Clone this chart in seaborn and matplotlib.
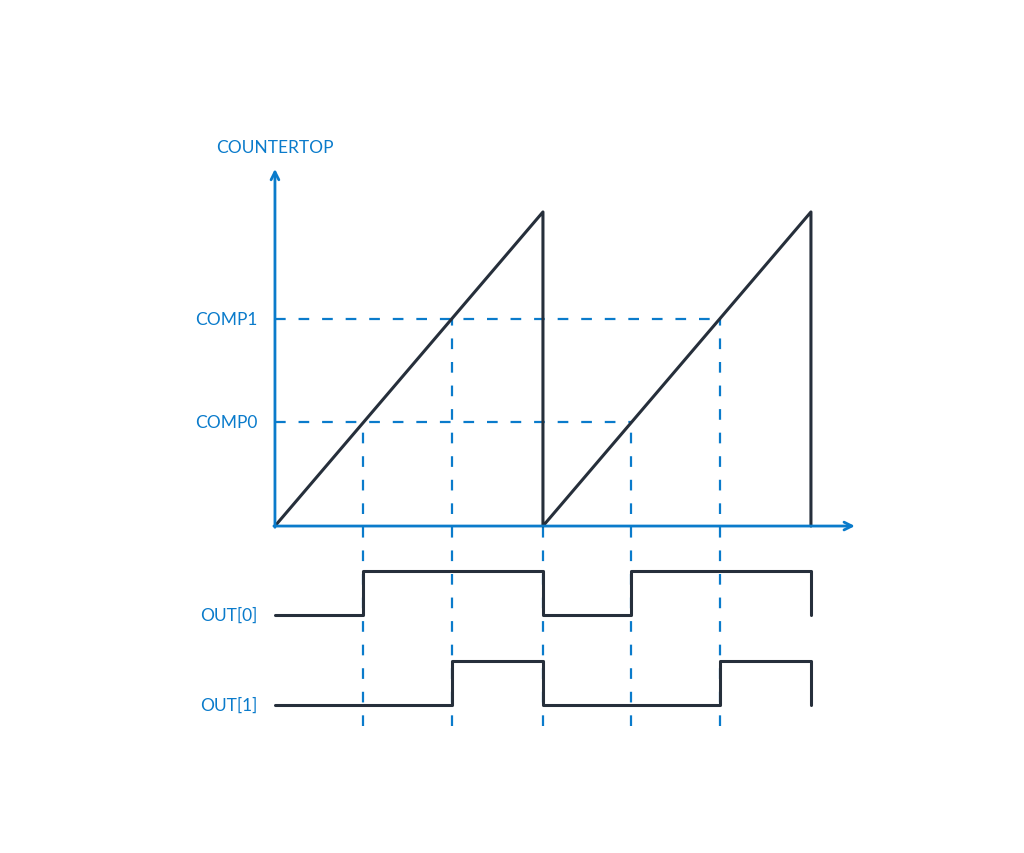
import numpy as np
import pandas as pd
import matplotlib
matplotlib.use("Agg")
import matplotlib.pyplot as plt
import seaborn as sns

# values in counter units (one period = 1, COUNTERTOP = 1)
counter_t = [0, 1, 1, 2, 2]
counter_v = [0, 1, 0, 1, 0]
comp_names = ["COMP0", "COMP1"]
comp_levels = [0.33, 0.66]

out0_t = [0, 0.33, 1, 1.33, 2]
out0_v = [0, 1, 0, 1, 0]
out1_t = [0, 0.66, 1, 1.66, 2]
out1_v = [0, 1, 0, 1, 0]
out_names = ["OUT[0]", "OUT[1]"]

BLUE = "#0a7bcb"
DARK = "#262f3b"

sns.set_style("white")
plt.rcParams["font.family"] = ["Lato", "DejaVu Sans"]

fig = plt.figure(figsize=(10.24, 8.54), dpi=100)
ax = fig.add_axes([0, 0, 1, 1])
ax.set_xlim(-1.026, 2.795)
ax.set_ylim(-1.041, 1.678)
ax.axis("off")

# lane placement for the output waveforms (below the counter plot)
lane_low = [-0.283, -0.570]
lane_amp = 0.14
dash_bottom = -0.637
dash = (0, (4.8, 5.8))

# dashed compare lines
ax.hlines(comp_levels[0], 0, out0_t[3], color=BLUE, lw=1.6, linestyle=dash, zorder=1)
ax.hlines(comp_levels[1], 0, out1_t[3], color=BLUE, lw=1.6, linestyle=dash, zorder=1)
for t, lvl in [(out0_t[1], comp_levels[0]), (out1_t[1], comp_levels[1]),
               (counter_t[1], 0), (out0_t[3], comp_levels[0]), (out1_t[3], comp_levels[1])]:
    ax.vlines(t, dash_bottom, lvl, color=BLUE, lw=1.6, linestyle=dash, zorder=1)

# counter sawtooth
df = pd.DataFrame({"t": counter_t, "v": counter_v})
sns.lineplot(data=df, x="t", y="v", ax=ax, color=DARK, lw=2.2,
             estimator=None, sort=False, zorder=3)

# output waveforms
for t, v, low in [(out0_t, out0_v, lane_low[0]), (out1_t, out1_v, lane_low[1])]:
    d = pd.DataFrame({"t": t, "v": [low + lane_amp * s for s in v]})
    sns.lineplot(data=d, x="t", y="v", ax=ax, color=DARK, lw=2.2,
                 estimator=None, sort=False, drawstyle="steps-post", zorder=3)

# axes with arrows
ax.annotate("", xy=(0, 1.137), xytext=(0, -0.004),
            arrowprops=dict(arrowstyle="->", color=BLUE, lw=2, mutation_scale=14,
                            shrinkA=0, shrinkB=0), zorder=4)
ax.annotate("", xy=(2.164, 0), xytext=(-0.004, 0),
            arrowprops=dict(arrowstyle="->", color=BLUE, lw=2, mutation_scale=14,
                            shrinkA=0, shrinkB=0), zorder=4)

# labels
fs = 12.5
ax.text(0, 1.208, "COUNTERTOP", color=BLUE, fontsize=fs, ha="center", va="center")
for name, lvl in zip(comp_names, comp_levels):
    ax.text(-0.065, lvl, name, color=BLUE, fontsize=fs, ha="right", va="center")
for name, low in zip(out_names, lane_low):
    ax.text(-0.065, low, name, color=BLUE, fontsize=fs, ha="right", va="center")

fig.savefig("out.png", dpi=100)
